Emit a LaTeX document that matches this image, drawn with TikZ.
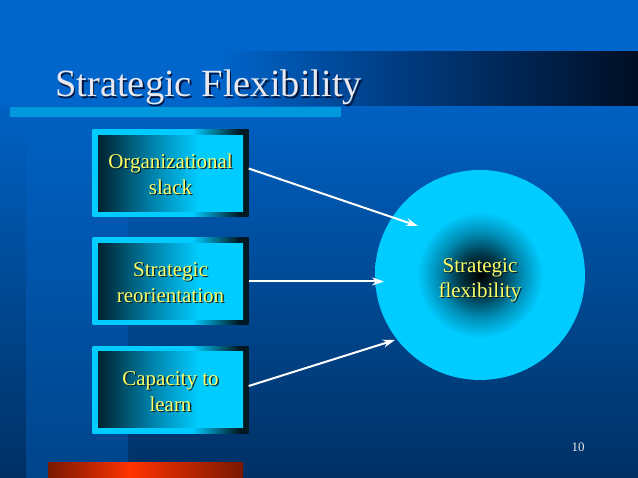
\documentclass[tikz,border=0pt]{standalone}
\usepackage{fontspec}
\setmainfont{Liberation Serif}
\usetikzlibrary{arrows.meta,shadings}

\definecolor{bgtop}{RGB}{0,102,204}
\definecolor{bgbot}{RGB}{0,48,100}
\definecolor{stripbot}{RGB}{0,68,138}
\definecolor{bandmid}{RGB}{0,60,130}
\definecolor{banddark}{RGB}{0,14,36}
\definecolor{barblue}{RGB}{0,153,221}
\definecolor{boxcyan}{RGB}{0,204,255}
\definecolor{boxmid}{RGB}{0,130,170}
\definecolor{boxdark}{RGB}{0,24,34}
\definecolor{glowa}{RGB}{0,55,72}
\definecolor{glowb}{RGB}{0,140,180}
\definecolor{textyellow}{RGB}{255,255,102}
\definecolor{textshadow}{RGB}{0,28,40}
\definecolor{titlegray}{RGB}{232,232,240}
\definecolor{titleshadow}{RGB}{0,22,60}
\definecolor{redbright}{RGB}{255,51,0}
\definecolor{reddark}{RGB}{120,24,0}

\pgfdeclareverticalshading{slidebg}{100bp}{color(0bp)=(bgbot); color(25bp)=(bgbot); color(68bp)=(bgtop); color(100bp)=(bgtop)}
\pgfdeclareverticalshading{leftstrip}{100bp}{color(0bp)=(stripbot); color(25bp)=(stripbot); color(70bp)=(bgtop); color(100bp)=(bgtop)}
\pgfdeclarehorizontalshading{titleband}{100bp}{color(0bp)=(bgtop); color(42bp)=(bgtop); color(56bp)=(bandmid); color(75bp)=(banddark); color(100bp)=(banddark)}
\pgfdeclarehorizontalshading{boxouter}{100bp}{color(0bp)=(boxcyan); color(57bp)=(boxcyan); color(72bp)=(boxdark); color(100bp)=(boxdark)}
\pgfdeclarehorizontalshading{boxinner}{100bp}{color(0bp)=(boxdark); color(25bp)=(boxdark); color(44bp)=(boxmid); color(59bp)=(boxcyan); color(100bp)=(boxcyan)}
\pgfdeclareradialshading{centerglow}{\pgfpoint{0bp}{0bp}}{color(0bp)=(black); color(5bp)=(glowa); color(10bp)=(glowb); color(15bp)=(boxcyan); color(50bp)=(boxcyan)}
\pgfdeclarehorizontalshading{redbar}{100bp}{color(0bp)=(reddark); color(25bp)=(reddark); color(46bp)=(redbright); color(75bp)=(reddark); color(100bp)=(reddark)}

\newcommand\shadowed[3]{\makebox[0pt][l]{\kern#1\raisebox{-#1}{\textcolor{#2}{#3}}}#3}
\newcommand\twolines[3][3pt]{\raisebox{-#1}[\height][\depth]{\begin{tabular}{@{}c@{}}%
  \shadowed{1.3pt}{textshadow}{#2}\\\shadowed{1.3pt}{textshadow}{#3}\end{tabular}}}

\tikzset{
  factor/.style={minimum width=156pt, minimum height=87pt, inner sep=0pt,
    shade, shading=boxouter, text=textyellow,
    font=\fontsize{21}{26}\selectfont,
    path picture={\shade[shading=boxinner]
      ([xshift=5.5pt,yshift=-5.5pt]path picture bounding box.north west) rectangle
      ([xshift=-5.5pt,yshift=5.5pt]path picture bounding box.south east);}},
  outcome/.style={circle, minimum size=210pt, inner sep=0pt, shade, shading=centerglow,
    text=textyellow, font=\fontsize{21}{25}\selectfont},
  link/.style={draw=white, line width=2pt, -{Stealth[length=12pt,width=8pt]}},
}

\begin{document}
\begin{tikzpicture}[x=1pt, y=-1pt]

  \newcommand\BX{170.5}
  \newcommand\YA{173.5}
  \newcommand\YB{281.5}
  \newcommand\YC{390}

  \useasboundingbox (0,0) rectangle (638,478);

  % slide background
  \shade[shading=slidebg] (0,0) rectangle (638,478);
  \shade[shading=leftstrip] (26,0) rectangle (128,478);
  \shade[shading=titleband] (0,52) rectangle (638,106);
  \fill[barblue] (10,107) rectangle (341,117);

  \node[anchor=base west, inner sep=0pt, text=titlegray, font=\fontsize{38.5}{44}\selectfont]
    (title) at (55,97) {\shadowed{1.5pt}{titleshadow}{Strategic Flexibility}};

  \node[factor] (slack) at (\BX, \YA) {\twolines{Organizational}{slack}};
  \node[factor] (reorient) at (\BX, \YB) {\twolines{Strategic}{reorientation}};
  \node[factor] (learn) at (\BX, \YC) {\twolines{Capacity to}{learn}};

  \node[outcome] (flex) at (480,275) {\twolines[5pt]{Strategic}{flexibility}};

  \coordinate (tipA) at (418,226);
  \coordinate (tipB) at (384,281.5);
  \coordinate (tipC) at (395,340);

  \draw[link] ([yshift=5pt]slack.east) -- (tipA);
  \draw[link] (reorient.east) -- (tipB);
  \draw[link] ([yshift=4pt]learn.east) -- (tipC);

  \node[text=titlegray, font=\fontsize{13}{15}\selectfont] (page) at (578,447.5) {10};

  \shade[shading=redbar] (48,463) rectangle (243,478);

\end{tikzpicture}
\end{document}
